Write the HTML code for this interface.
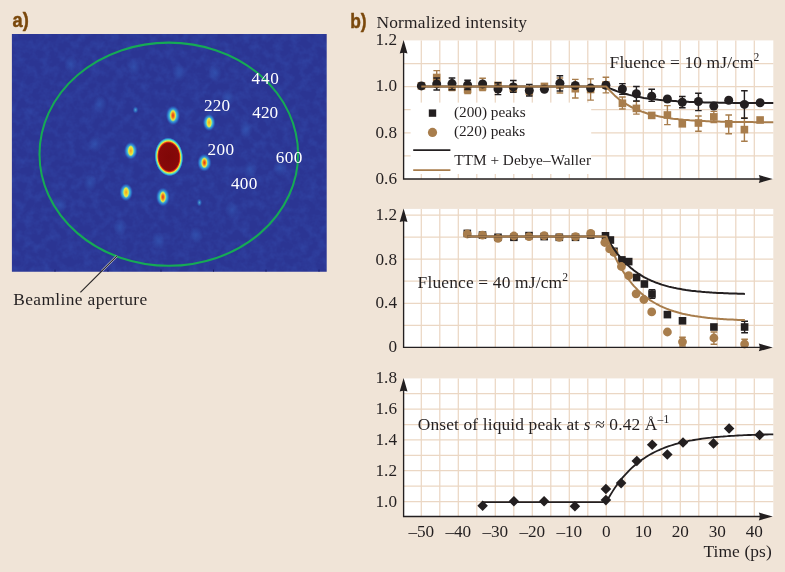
<!DOCTYPE html>
<html lang="en"><head><meta charset="utf-8"><title>Figure</title>
<style>html,body{margin:0;padding:0;background:#f0e4d7}svg{display:block}text{font-family:"Liberation Serif","DejaVu Serif",serif;fill:#231f20}.sans{font-family:"Liberation Sans","DejaVu Sans",sans-serif;font-weight:bold;fill:#7a480c;stroke:#7a480c;stroke-width:0.45px;stroke-linejoin:round}.w{fill:#fff}</style></head><body>
<svg width="785" height="572" viewBox="0 0 785 572">
<defs>
<radialGradient id="gc"><stop offset="0" stop-color="#800707"/><stop offset="0.70" stop-color="#86090a"/><stop offset="0.76" stop-color="#e02a12"/><stop offset="0.82" stop-color="#f6e431"/><stop offset="0.875" stop-color="#6fe6a8"/><stop offset="0.92" stop-color="#35b5dc"/><stop offset="0.965" stop-color="#2f7fd0" stop-opacity="0.7"/><stop offset="1" stop-color="#2b4fb3" stop-opacity="0"/></radialGradient>
<radialGradient id="gr"><stop offset="0" stop-color="#e0301a"/><stop offset="0.22" stop-color="#f08a1e"/><stop offset="0.42" stop-color="#f2e337"/><stop offset="0.62" stop-color="#58d9c8"/><stop offset="0.82" stop-color="#2f86d6" stop-opacity="0.8"/><stop offset="1" stop-color="#2b4fb3" stop-opacity="0"/></radialGradient>
<radialGradient id="gy"><stop offset="0" stop-color="#f3a521"/><stop offset="0.3" stop-color="#f0e63a"/><stop offset="0.58" stop-color="#5fdcc4"/><stop offset="0.82" stop-color="#2f86d6" stop-opacity="0.8"/><stop offset="1" stop-color="#2b4fb3" stop-opacity="0"/></radialGradient>
<radialGradient id="gf"><stop offset="0" stop-color="#5fd0e0"/><stop offset="0.5" stop-color="#2f86d6" stop-opacity="0.8"/><stop offset="1" stop-color="#2b4fb3" stop-opacity="0"/></radialGradient>
<radialGradient id="go"><stop offset="0" stop-color="#6fe6b4"/><stop offset="0.45" stop-color="#4fd2d2"/><stop offset="0.72" stop-color="#2f86d6" stop-opacity="0.85"/><stop offset="1" stop-color="#2b4fb3" stop-opacity="0"/></radialGradient>
<radialGradient id="ir"><stop offset="0" stop-color="#e3311a"/><stop offset="0.35" stop-color="#f07a1c"/><stop offset="0.7" stop-color="#f2e337"/><stop offset="1" stop-color="#b8e86a" stop-opacity="0"/></radialGradient>
<radialGradient id="iy"><stop offset="0" stop-color="#f29a20"/><stop offset="0.35" stop-color="#f3c92c"/><stop offset="0.7" stop-color="#eee640"/><stop offset="1" stop-color="#b8e86a" stop-opacity="0"/></radialGradient>
<radialGradient id="gb"><stop offset="0" stop-color="#3560bd" stop-opacity="0.55"/><stop offset="1" stop-color="#3560bd" stop-opacity="0"/></radialGradient>
<filter id="nz" color-interpolation-filters="sRGB" x="0" y="0" width="100%" height="100%"><feTurbulence type="fractalNoise" baseFrequency="0.12" numOctaves="3" seed="7" result="t"/><feColorMatrix in="t" type="matrix" values="0 0 0 0 0.20  0 0 0 0 0.30  0 0 0 0 0.68  1.1 0 0 0 -0.42" result="n"/><feComposite in="n" in2="SourceGraphic" operator="over"/></filter>
<clipPath id="cimg"><rect x="11.9" y="33.9" width="314.8" height="237.9"/></clipPath>
</defs>
<rect width="785" height="572" fill="#f0e4d7"/>
<text class="sans" x="12.6" y="27.2" font-size="20.5" textLength="16.2" lengthAdjust="spacingAndGlyphs">a)</text>
<text class="sans" x="350.2" y="27.8" font-size="20.5" textLength="16.4" lengthAdjust="spacingAndGlyphs">b)</text>
<g clip-path="url(#cimg)">
<rect x="11" y="33" width="317" height="240" fill="#2b3593" filter="url(#nz)"/>
<ellipse cx="134" cy="67" rx="7" ry="9" fill="url(#gb)"/>
<ellipse cx="179" cy="73" rx="7" ry="9" fill="url(#gb)"/>
<ellipse cx="215" cy="73" rx="7" ry="9" fill="url(#gb)"/>
<ellipse cx="100" cy="104" rx="7" ry="9" fill="url(#gb)"/>
<ellipse cx="95" cy="144" rx="7" ry="9" fill="url(#gb)"/>
<ellipse cx="90" cy="183" rx="7" ry="9" fill="url(#gb)"/>
<ellipse cx="120" cy="227" rx="7" ry="9" fill="url(#gb)"/>
<ellipse cx="158" cy="241" rx="7" ry="9" fill="url(#gb)"/>
<ellipse cx="196" cy="235" rx="7" ry="9" fill="url(#gb)"/>
<ellipse cx="232" cy="210" rx="7" ry="9" fill="url(#gb)"/>
<ellipse cx="246" cy="129" rx="7" ry="9" fill="url(#gb)"/>
<ellipse cx="280" cy="168" rx="7" ry="9" fill="url(#gb)"/>
<ellipse cx="60" cy="205" rx="7" ry="9" fill="url(#gb)"/>
<ellipse cx="250" cy="170" rx="7" ry="9" fill="url(#gb)"/>
<ellipse cx="71" cy="64" rx="7" ry="9" fill="url(#gb)"/>
<ellipse cx="228" cy="98" rx="7" ry="9" fill="url(#gb)"/>
<ellipse cx="168.9" cy="156.9" rx="14.3" ry="19.4" fill="url(#gc)" transform="rotate(-5 168.9 156.9)"/>
<ellipse cx="173" cy="115.5" rx="7.31" ry="10.112" fill="url(#go)"/>
<ellipse cx="173" cy="115.5" rx="3.4" ry="6.4" fill="url(#ir)"/>
<ellipse cx="209.1" cy="122.5" rx="6.45" ry="8.848" fill="url(#go)"/>
<ellipse cx="209.1" cy="122.5" rx="3" ry="5.6" fill="url(#iy)"/>
<ellipse cx="130.8" cy="150.8" rx="6.88" ry="9.164" fill="url(#go)"/>
<ellipse cx="130.8" cy="150.8" rx="3.2" ry="5.8" fill="url(#iy)"/>
<ellipse cx="204.4" cy="162.7" rx="7.31" ry="9.164" fill="url(#go)"/>
<ellipse cx="204.4" cy="162.7" rx="3.4" ry="5.8" fill="url(#ir)"/>
<ellipse cx="126.1" cy="192.3" rx="6.88" ry="9.164" fill="url(#go)"/>
<ellipse cx="126.1" cy="192.3" rx="3.2" ry="5.8" fill="url(#iy)"/>
<ellipse cx="162.9" cy="197" rx="7.095" ry="9.796" fill="url(#go)"/>
<ellipse cx="162.9" cy="197" rx="3.3" ry="6.2" fill="url(#ir)"/>
<ellipse cx="135.5" cy="109.9" rx="3" ry="3.8" fill="url(#gf)" opacity="0.75"/>
<ellipse cx="199.4" cy="202.6" rx="2.8" ry="4.2" fill="url(#gf)" opacity="0.75"/>
<rect x="54.5" y="269.6" width="1" height="2.4" fill="#141a5e" opacity="0.8"/>
<rect x="107.5" y="269.6" width="1" height="2.4" fill="#141a5e" opacity="0.8"/>
<rect x="160.5" y="269.6" width="1" height="2.4" fill="#141a5e" opacity="0.8"/>
<rect x="213" y="269.6" width="1" height="2.4" fill="#141a5e" opacity="0.8"/>
<rect x="265.5" y="269.6" width="1" height="2.4" fill="#141a5e" opacity="0.8"/>
<rect x="318.5" y="269.6" width="1" height="2.4" fill="#141a5e" opacity="0.8"/>
</g>
<ellipse cx="168.8" cy="154.2" rx="129.3" ry="111.6" fill="none" stroke="#16aa55" stroke-width="2.05"/>
<text class="w" x="251.6" y="83.8" font-size="17.2" textLength="27.2" lengthAdjust="spacing">440</text>
<text class="w" x="204" y="111.2" font-size="17.2" textLength="26.2" lengthAdjust="spacing">220</text>
<text class="w" x="252.2" y="118.3" font-size="17.2" textLength="26" lengthAdjust="spacing">420</text>
<text class="w" x="207.6" y="154.8" font-size="17.2" textLength="26.6" lengthAdjust="spacing">200</text>
<text class="w" x="275.7" y="163" font-size="17.2" textLength="26.6" lengthAdjust="spacing">600</text>
<text class="w" x="231" y="189" font-size="17.2" textLength="26.3" lengthAdjust="spacing">400</text>
<line x1="116.9" y1="256" x2="101.8" y2="271.1" stroke="#fff" stroke-width="2.1" stroke-opacity="0.8"/>
<line x1="117" y1="255.9" x2="80.4" y2="292.4" stroke="#2a2627" stroke-width="1.2"/>
<text x="13.2" y="304.6" font-size="17.4" textLength="134" lengthAdjust="spacing">Beamline aperture</text>
<rect x="403.6" y="40.4" width="369.7" height="138.6" fill="#fff"/>
<path d="M421.3 40.4V179.0M439.8 40.4V179.0M458.3 40.4V179.0M476.8 40.4V179.0M495.3 40.4V179.0M513.8 40.4V179.0M532.3 40.4V179.0M550.8 40.4V179.0M569.3 40.4V179.0M587.8 40.4V179.0M606.3 40.4V179.0M624.8 40.4V179.0M643.3 40.4V179.0M661.8 40.4V179.0M680.3 40.4V179.0M698.8 40.4V179.0M717.3 40.4V179.0M735.8 40.4V179.0M754.3 40.4V179.0M403.6 155.9H773.3M403.6 132.8H773.3M403.6 109.7H773.3M403.6 86.6H773.3M403.6 63.5H773.3" stroke="#ebd7c4" stroke-width="1.25" fill="none"/>
<rect x="410.6" y="102.6" width="180.6" height="71.4" fill="#fff"/>
<rect x="417.6" y="82.1" width="7.6" height="7.6" fill="#a87d4c"/>
<path d="M436.7 70.6V84.5M433.4 70.6h6.6M433.4 84.5h6.6" stroke="#a87d4c" stroke-width="1.4" fill="none"/>
<rect x="432.9" y="73.7" width="7.6" height="7.6" fill="#a87d4c"/>
<path d="M452.0 83.5V90.5M448.7 83.5h6.6M448.7 90.5h6.6" stroke="#a87d4c" stroke-width="1.4" fill="none"/>
<rect x="448.2" y="83.2" width="7.6" height="7.6" fill="#a87d4c"/>
<path d="M467.6 85.5V93.5M464.3 85.5h6.6M464.3 93.5h6.6" stroke="#a87d4c" stroke-width="1.4" fill="none"/>
<rect x="463.8" y="85.7" width="7.6" height="7.6" fill="#a87d4c"/>
<path d="M482.6 78.3V90.5M479.3 78.3h6.6M479.3 90.5h6.6" stroke="#a87d4c" stroke-width="1.4" fill="none"/>
<rect x="478.8" y="82.8" width="7.6" height="7.6" fill="#a87d4c"/>
<rect x="494.2" y="81.6" width="7.6" height="7.6" fill="#a87d4c"/>
<path d="M513.3 84.0V92.0M510.0 84.0h6.6M510.0 92.0h6.6" stroke="#a87d4c" stroke-width="1.4" fill="none"/>
<rect x="509.5" y="84.2" width="7.6" height="7.6" fill="#a87d4c"/>
<path d="M529.3 87.0V95.0M526.0 87.0h6.6M526.0 95.0h6.6" stroke="#a87d4c" stroke-width="1.4" fill="none"/>
<rect x="525.5" y="87.2" width="7.6" height="7.6" fill="#a87d4c"/>
<rect x="540.6" y="82.6" width="7.6" height="7.6" fill="#a87d4c"/>
<path d="M559.9 78.0V93.0M556.6 78.0h6.6M556.6 93.0h6.6" stroke="#a87d4c" stroke-width="1.4" fill="none"/>
<rect x="556.1" y="81.6" width="7.6" height="7.6" fill="#a87d4c"/>
<path d="M575.3 79.4V98.0M572.0 79.4h6.6M572.0 98.0h6.6" stroke="#a87d4c" stroke-width="1.4" fill="none"/>
<rect x="571.5" y="84.9" width="7.6" height="7.6" fill="#a87d4c"/>
<path d="M590.6 78.9V100.1M587.3 78.9h6.6M587.3 100.1h6.6" stroke="#a87d4c" stroke-width="1.4" fill="none"/>
<rect x="586.8" y="85.7" width="7.6" height="7.6" fill="#a87d4c"/>
<path d="M605.9 77.2V92.9M602.6 77.2h6.6M602.6 92.9h6.6" stroke="#a87d4c" stroke-width="1.4" fill="none"/>
<rect x="602.1" y="81.2" width="7.6" height="7.6" fill="#a87d4c"/>
<path d="M622.4 97.0V109.0M619.1 97.0h6.6M619.1 109.0h6.6" stroke="#a87d4c" stroke-width="1.4" fill="none"/>
<rect x="618.6" y="99.5" width="7.6" height="7.6" fill="#a87d4c"/>
<path d="M636.4 101.4V114.1M633.1 101.4h6.6M633.1 114.1h6.6" stroke="#a87d4c" stroke-width="1.4" fill="none"/>
<rect x="632.6" y="104.6" width="7.6" height="7.6" fill="#a87d4c"/>
<rect x="647.9" y="111.6" width="7.6" height="7.6" fill="#a87d4c"/>
<path d="M667.4 105.6V124.6M664.1 105.6h6.6M664.1 124.6h6.6" stroke="#a87d4c" stroke-width="1.4" fill="none"/>
<rect x="663.6" y="111.2" width="7.6" height="7.6" fill="#a87d4c"/>
<rect x="678.5" y="120.0" width="7.6" height="7.6" fill="#a87d4c"/>
<path d="M698.4 116.0V131.3M695.1 116.0h6.6M695.1 131.3h6.6" stroke="#a87d4c" stroke-width="1.4" fill="none"/>
<rect x="694.6" y="119.2" width="7.6" height="7.6" fill="#a87d4c"/>
<path d="M713.8 111.4V122.6M710.5 111.4h6.6M710.5 122.6h6.6" stroke="#a87d4c" stroke-width="1.4" fill="none"/>
<rect x="710.0" y="113.1" width="7.6" height="7.6" fill="#a87d4c"/>
<path d="M728.7 115.0V133.7M725.4 115.0h6.6M725.4 133.7h6.6" stroke="#a87d4c" stroke-width="1.4" fill="none"/>
<rect x="724.9" y="120.0" width="7.6" height="7.6" fill="#a87d4c"/>
<path d="M744.4 117.9V141.3M741.1 117.9h6.6M741.1 141.3h6.6" stroke="#a87d4c" stroke-width="1.4" fill="none"/>
<rect x="740.6" y="125.8" width="7.6" height="7.6" fill="#a87d4c"/>
<rect x="756.3" y="116.2" width="7.6" height="7.6" fill="#a87d4c"/>
<circle cx="421.4" cy="85.9" r="4.5" fill="#231f20"/>
<path d="M436.7 78.0V90.0M433.4 78.0h6.6M433.4 90.0h6.6" stroke="#231f20" stroke-width="1.4" fill="none"/>
<circle cx="436.7" cy="83.9" r="4.5" fill="#231f20"/>
<path d="M452.0 78.0V89.7M448.7 78.0h6.6M448.7 89.7h6.6" stroke="#231f20" stroke-width="1.4" fill="none"/>
<circle cx="452.0" cy="83.6" r="4.5" fill="#231f20"/>
<path d="M467.6 80.3V89.5M464.3 80.3h6.6M464.3 89.5h6.6" stroke="#231f20" stroke-width="1.4" fill="none"/>
<circle cx="467.6" cy="84.9" r="4.5" fill="#231f20"/>
<circle cx="482.6" cy="83.9" r="4.5" fill="#231f20"/>
<path d="M498.0 82.8V94.6M494.7 82.8h6.6M494.7 94.6h6.6" stroke="#231f20" stroke-width="1.4" fill="none"/>
<circle cx="498.0" cy="89.0" r="4.5" fill="#231f20"/>
<path d="M513.3 80.5V92.3M510.0 80.5h6.6M510.0 92.3h6.6" stroke="#231f20" stroke-width="1.4" fill="none"/>
<circle cx="513.3" cy="86.9" r="4.5" fill="#231f20"/>
<path d="M529.3 84.4V96.0M526.0 84.4h6.6M526.0 96.0h6.6" stroke="#231f20" stroke-width="1.4" fill="none"/>
<circle cx="529.3" cy="90.5" r="4.5" fill="#231f20"/>
<circle cx="544.4" cy="89.3" r="4.5" fill="#231f20"/>
<path d="M559.9 75.7V91.0M556.6 75.7h6.6M556.6 91.0h6.6" stroke="#231f20" stroke-width="1.4" fill="none"/>
<circle cx="559.9" cy="83.3" r="4.5" fill="#231f20"/>
<circle cx="575.3" cy="85.5" r="4.5" fill="#231f20"/>
<circle cx="590.6" cy="88.0" r="4.5" fill="#231f20"/>
<circle cx="605.9" cy="85.2" r="4.5" fill="#231f20"/>
<path d="M622.4 83.6V94.4M619.1 83.6h6.6M619.1 94.4h6.6" stroke="#231f20" stroke-width="1.4" fill="none"/>
<circle cx="622.4" cy="89.0" r="4.5" fill="#231f20"/>
<path d="M636.4 86.5V101.0M633.1 86.5h6.6M633.1 101.0h6.6" stroke="#231f20" stroke-width="1.4" fill="none"/>
<circle cx="636.4" cy="93.8" r="4.5" fill="#231f20"/>
<path d="M651.7 89.3V101.4M648.4 89.3h6.6M648.4 101.4h6.6" stroke="#231f20" stroke-width="1.4" fill="none"/>
<circle cx="651.7" cy="96.3" r="4.5" fill="#231f20"/>
<circle cx="667.4" cy="99.0" r="4.5" fill="#231f20"/>
<path d="M682.3 96.5V107.7M679.0 96.5h6.6M679.0 107.7h6.6" stroke="#231f20" stroke-width="1.4" fill="none"/>
<circle cx="682.3" cy="102.3" r="4.5" fill="#231f20"/>
<path d="M698.4 93.2V110.6M695.1 93.2h6.6M695.1 110.6h6.6" stroke="#231f20" stroke-width="1.4" fill="none"/>
<circle cx="698.4" cy="101.5" r="4.5" fill="#231f20"/>
<circle cx="713.8" cy="106.1" r="4.5" fill="#231f20"/>
<circle cx="728.7" cy="100.3" r="4.5" fill="#231f20"/>
<path d="M744.4 90.7V118.3M741.1 90.7h6.6M741.1 118.3h6.6" stroke="#231f20" stroke-width="1.4" fill="none"/>
<circle cx="744.4" cy="104.4" r="4.5" fill="#231f20"/>
<circle cx="760.1" cy="102.8" r="4.5" fill="#231f20"/>
<path d="M421.3 86.6L606.3 86.6L608.4 87.6L610.5 88.6L612.6 89.5L614.6 90.3L616.7 91.1L618.8 91.8L620.9 92.5L623.0 93.2L625.1 93.8L627.2 94.3L629.3 94.9L631.3 95.4L633.4 95.9L635.5 96.3L637.6 96.7L639.7 97.1L641.8 97.5L643.9 97.9L646.0 98.2L648.0 98.5L650.1 98.8L652.2 99.0L654.3 99.3L656.4 99.5L658.5 99.8L660.6 100.0L662.7 100.2L664.8 100.4L666.8 100.5L668.9 100.7L671.0 100.8L673.1 101.0L675.2 101.1L677.3 101.3L679.4 101.4L681.4 101.5L683.5 101.6L685.6 101.7L687.7 101.8L689.8 101.9L691.9 102.0L694.0 102.0L696.1 102.1L698.1 102.2L700.2 102.2L702.3 102.3L704.4 102.4L706.5 102.4L708.6 102.5L710.7 102.5L712.8 102.6L714.8 102.6L716.9 102.6L719.0 102.7L721.1 102.7L723.2 102.7L725.3 102.8L727.4 102.8L729.5 102.8L731.5 102.8L733.6 102.9L735.7 102.9L737.8 102.9L739.9 102.9L742.0 102.9L744.1 103.0L746.2 103.0L748.2 103.0L750.3 103.0L752.4 103.0L754.5 103.0L756.6 103.0L758.7 103.1L760.8 103.1L762.9 103.1L764.9 103.1L767.0 103.1L769.1 103.1L771.2 103.1L773.3 103.1" stroke="#231f20" stroke-width="2" fill="none" stroke-linejoin="round"/>
<path d="M421.3 86.6L606.3 86.6L608.4 89.0L610.5 91.3L612.6 93.4L614.6 95.4L616.7 97.2L618.8 99.0L620.9 100.6L623.0 102.0L625.1 103.4L627.2 104.7L629.3 105.9L631.3 107.0L633.4 108.1L635.5 109.1L637.6 110.0L639.7 110.8L641.8 111.6L643.9 112.3L646.0 113.0L648.0 113.7L650.1 114.3L652.2 114.8L654.3 115.3L656.4 115.8L658.5 116.3L660.6 116.7L662.7 117.1L664.8 117.4L666.8 117.8L668.9 118.1L671.0 118.4L673.1 118.7L675.2 118.9L677.3 119.1L679.4 119.4L681.4 119.6L683.5 119.8L685.6 119.9L687.7 120.1L689.8 120.3L691.9 120.4L694.0 120.6L696.1 120.7L698.1 120.8L700.2 120.9L702.3 121.0L704.4 121.1L706.5 121.2L708.6 121.3L710.7 121.4L712.8 121.4L714.8 121.5L716.9 121.6L719.0 121.6L721.1 121.7L723.2 121.7L725.3 121.8L727.4 121.8L729.5 121.8L731.5 121.9L733.6 121.9L735.7 122.0L737.8 122.0L739.9 122.0L742.0 122.0L744.1 122.1L746.2 122.1L748.2 122.1L750.3 122.1L752.4 122.1L754.5 122.2L756.6 122.2L758.7 122.2L760.8 122.2L762.9 122.2L764.9 122.2L767.0 122.2L769.1 122.3L771.2 122.3L773.3 122.3" stroke="#a87d4c" stroke-width="2" fill="none" stroke-linejoin="round"/>
<rect x="428.8" y="109.4" width="7.4" height="7.4" fill="#231f20"/>
<circle cx="432.5" cy="132.4" r="4.6" fill="#a87d4c"/>
<path d="M413.2 150.1H450.4" stroke="#231f20" stroke-width="1.7"/>
<path d="M413.2 170.2H450.4" stroke="#a87d4c" stroke-width="1.7"/>
<text x="453.9" y="117" font-size="15.3" textLength="71.7" lengthAdjust="spacing">(200) peaks</text>
<text x="453.9" y="136" font-size="15.3" textLength="71.4" lengthAdjust="spacing">(220) peaks</text>
<text x="454.2" y="164.6" font-size="15.3" textLength="136.8" lengthAdjust="spacing">TTM + Debye–Waller</text>
<text x="609.6" y="68.3" font-size="17.4" textLength="149.8" lengthAdjust="spacing">Fluence = 10 mJ/cm<tspan font-size="11.6" dy="-7">2</tspan></text>
<path d="M403.6 48.4V179H760" stroke="#231f20" stroke-width="1.35" fill="none"/>
<path d="M403.6 40.1L407.5 53.6Q403.6 51.8 399.7 53.6Z" fill="#231f20"/>
<path d="M772.8 179L758.8 175.1Q760.6 179 758.8 182.9Z" fill="#231f20"/>
<text x="397" y="45.3" font-size="17.2" text-anchor="end">1.2</text>
<text x="397" y="91.4" font-size="17.2" text-anchor="end">1.0</text>
<text x="397" y="137.6" font-size="17.2" text-anchor="end">0.8</text>
<text x="397" y="183.6" font-size="17.2" text-anchor="end">0.6</text>
<text x="376.4" y="27.8" font-size="17.4" textLength="150.6" lengthAdjust="spacing">Normalized intensity</text>
<rect x="403.6" y="208.9" width="369.7" height="138.5" fill="#fff"/>
<path d="M421.3 208.9V347.4M439.8 208.9V347.4M458.3 208.9V347.4M476.8 208.9V347.4M495.3 208.9V347.4M513.8 208.9V347.4M532.3 208.9V347.4M550.8 208.9V347.4M569.3 208.9V347.4M587.8 208.9V347.4M606.3 208.9V347.4M624.8 208.9V347.4M643.3 208.9V347.4M661.8 208.9V347.4M680.3 208.9V347.4M698.8 208.9V347.4M717.3 208.9V347.4M735.8 208.9V347.4M754.3 208.9V347.4M403.6 325.3H773.3M403.6 303.3H773.3M403.6 281.2H773.3M403.6 259.2H773.3M403.6 237.1H773.3M403.6 215.0H773.3" stroke="#ebd7c4" stroke-width="1.25" fill="none"/>
<path d="M652.0 289.6V298.4M648.7 289.6h6.6M648.7 298.4h6.6" stroke="#231f20" stroke-width="1.4" fill="none"/>
<path d="M744.6 321.2V332.7M741.2 321.2h6.8M741.2 332.7h6.8" stroke="#231f20" stroke-width="1.4" fill="none"/>
<rect x="463.5" y="229.6" width="7.6" height="7.6" fill="#231f20"/>
<rect x="478.7" y="231.3" width="7.6" height="7.6" fill="#231f20"/>
<rect x="494.2" y="233.5" width="7.6" height="7.6" fill="#231f20"/>
<rect x="510.1" y="233.5" width="7.6" height="7.6" fill="#231f20"/>
<rect x="525.2" y="231.8" width="7.6" height="7.6" fill="#231f20"/>
<rect x="540.4" y="232.8" width="7.6" height="7.6" fill="#231f20"/>
<rect x="555.5" y="233.5" width="7.6" height="7.6" fill="#231f20"/>
<rect x="571.7" y="233.5" width="7.6" height="7.6" fill="#231f20"/>
<rect x="586.9" y="231.2" width="7.6" height="7.6" fill="#231f20"/>
<rect x="601.7" y="232.0" width="7.6" height="7.6" fill="#231f20"/>
<rect x="606.6" y="236.2" width="7.6" height="7.6" fill="#231f20"/>
<rect x="610.2" y="247.5" width="7.6" height="7.6" fill="#231f20"/>
<rect x="618.1" y="256.1" width="7.6" height="7.6" fill="#231f20"/>
<rect x="624.9" y="257.8" width="7.6" height="7.6" fill="#231f20"/>
<rect x="632.8" y="273.7" width="7.6" height="7.6" fill="#231f20"/>
<rect x="640.6" y="280.2" width="7.6" height="7.6" fill="#231f20"/>
<rect x="648.2" y="290.2" width="7.6" height="7.6" fill="#231f20"/>
<rect x="663.6" y="310.8" width="7.6" height="7.6" fill="#231f20"/>
<rect x="678.7" y="317.0" width="7.6" height="7.6" fill="#231f20"/>
<rect x="710.1" y="323.2" width="7.6" height="7.6" fill="#231f20"/>
<rect x="740.8" y="323.2" width="7.6" height="7.6" fill="#231f20"/>
<path d="M682.5 337.3V346.0M679.2 337.3h6.6M679.2 346.0h6.6" stroke="#a87d4c" stroke-width="1.4" fill="none"/>
<path d="M713.9 332.0V344.2M710.6 332.0h6.6M710.6 344.2h6.6" stroke="#a87d4c" stroke-width="1.4" fill="none"/>
<path d="M744.6 339.3V347.0M741.3 339.3h6.6M741.3 347.0h6.6" stroke="#a87d4c" stroke-width="1.4" fill="none"/>
<circle cx="467.3" cy="234.0" r="4.4" fill="#a87d4c"/>
<circle cx="482.5" cy="235.1" r="4.4" fill="#a87d4c"/>
<circle cx="498.0" cy="238.4" r="4.4" fill="#a87d4c"/>
<circle cx="513.9" cy="236.0" r="4.4" fill="#a87d4c"/>
<circle cx="529.0" cy="236.6" r="4.4" fill="#a87d4c"/>
<circle cx="544.2" cy="235.6" r="4.4" fill="#a87d4c"/>
<circle cx="559.3" cy="237.3" r="4.4" fill="#a87d4c"/>
<circle cx="575.5" cy="236.6" r="4.4" fill="#a87d4c"/>
<circle cx="590.7" cy="233.4" r="4.4" fill="#a87d4c"/>
<circle cx="604.8" cy="242.5" r="4.4" fill="#a87d4c"/>
<circle cx="609.7" cy="248.9" r="4.4" fill="#a87d4c"/>
<circle cx="614.0" cy="252.3" r="4.4" fill="#a87d4c"/>
<circle cx="621.4" cy="266.5" r="4.4" fill="#a87d4c"/>
<circle cx="628.7" cy="275.7" r="4.4" fill="#a87d4c"/>
<circle cx="636.1" cy="293.8" r="4.4" fill="#a87d4c"/>
<circle cx="643.9" cy="299.5" r="4.4" fill="#a87d4c"/>
<circle cx="651.7" cy="311.9" r="4.4" fill="#a87d4c"/>
<circle cx="667.4" cy="332.0" r="4.4" fill="#a87d4c"/>
<circle cx="682.5" cy="341.8" r="4.4" fill="#a87d4c"/>
<circle cx="713.9" cy="338.0" r="4.4" fill="#a87d4c"/>
<circle cx="744.6" cy="344.0" r="4.4" fill="#a87d4c"/>
<path d="M467.3 236.4L606.3 236.4L608.0 239.5L609.8 242.5L611.5 245.3L613.2 247.9L615.0 250.4L616.7 252.8L618.4 255.0L620.2 257.1L621.9 259.1L623.6 261.0L625.4 262.8L627.1 264.5L628.8 266.1L630.6 267.7L632.3 269.1L634.0 270.5L635.8 271.8L637.5 273.0L639.2 274.1L640.9 275.2L642.7 276.3L644.4 277.3L646.1 278.2L647.9 279.1L649.6 279.9L651.3 280.7L653.1 281.4L654.8 282.1L656.5 282.8L658.3 283.4L660.0 284.0L661.7 284.6L663.5 285.1L665.2 285.6L666.9 286.1L668.7 286.6L670.4 287.0L672.1 287.4L673.9 287.8L675.6 288.1L677.3 288.5L679.1 288.8L680.8 289.1L682.5 289.4L684.3 289.7L686.0 290.0L687.7 290.2L689.5 290.4L691.2 290.7L692.9 290.9L694.7 291.1L696.4 291.3L698.1 291.4L699.9 291.6L701.6 291.8L703.3 291.9L705.1 292.1L706.8 292.2L708.5 292.3L710.2 292.4L712.0 292.6L713.7 292.7L715.4 292.8L717.2 292.9L718.9 292.9L720.6 293.0L722.4 293.1L724.1 293.2L725.8 293.3L727.6 293.3L729.3 293.4L731.0 293.5L732.8 293.5L734.5 293.6L736.2 293.6L738.0 293.7L739.7 293.7L741.4 293.8L743.2 293.8L744.9 293.9" stroke="#231f20" stroke-width="2" fill="none" stroke-linejoin="round"/>
<path d="M467.3 236.4L606.3 236.4L608.0 240.9L609.8 245.2L611.5 249.3L613.2 253.2L615.0 256.8L616.7 260.3L618.4 263.5L620.2 266.6L621.9 269.5L623.6 272.3L625.4 274.9L627.1 277.4L628.8 279.7L630.6 282.0L632.3 284.1L634.0 286.1L635.8 287.9L637.5 289.7L639.2 291.4L640.9 293.0L642.7 294.5L644.4 295.9L646.1 297.3L647.9 298.6L649.6 299.8L651.3 300.9L653.1 302.0L654.8 303.0L656.5 304.0L658.3 304.9L660.0 305.8L661.7 306.6L663.5 307.4L665.2 308.1L666.9 308.8L668.7 309.5L670.4 310.1L672.1 310.7L673.9 311.3L675.6 311.8L677.3 312.3L679.1 312.8L680.8 313.2L682.5 313.7L684.3 314.1L686.0 314.4L687.7 314.8L689.5 315.1L691.2 315.5L692.9 315.8L694.7 316.1L696.4 316.3L698.1 316.6L699.9 316.8L701.6 317.1L703.3 317.3L705.1 317.5L706.8 317.7L708.5 317.9L710.2 318.1L712.0 318.2L713.7 318.4L715.4 318.5L717.2 318.7L718.9 318.8L720.6 318.9L722.4 319.0L724.1 319.2L725.8 319.3L727.6 319.4L729.3 319.5L731.0 319.6L732.8 319.6L734.5 319.7L736.2 319.8L738.0 319.9L739.7 319.9L741.4 320.0L743.2 320.1L744.9 320.1" stroke="#a87d4c" stroke-width="2" fill="none" stroke-linejoin="round"/>
<text x="417.6" y="288" font-size="17.4" textLength="150.4" lengthAdjust="spacing">Fluence = 40 mJ/cm<tspan font-size="11.6" dy="-7">2</tspan></text>
<path d="M403.6 216.9V347.4H760" stroke="#231f20" stroke-width="1.35" fill="none"/>
<path d="M403.6 208.6L407.5 222.1Q403.6 220.3 399.7 222.1Z" fill="#231f20"/>
<path d="M772.8 347.4L758.8 343.5Q760.6 347.4 758.8 351.3Z" fill="#231f20"/>
<text x="397" y="220.1" font-size="17.2" text-anchor="end">1.2</text>
<text x="397" y="264.5" font-size="17.2" text-anchor="end">0.8</text>
<text x="397" y="307.8" font-size="17.2" text-anchor="end">0.4</text>
<text x="397" y="352.2" font-size="17.2" text-anchor="end">0</text>
<rect x="403.6" y="378.4" width="369.7" height="138.1" fill="#fff"/>
<path d="M421.3 378.4V516.5M439.8 378.4V516.5M458.3 378.4V516.5M476.8 378.4V516.5M495.3 378.4V516.5M513.8 378.4V516.5M532.3 378.4V516.5M550.8 378.4V516.5M569.3 378.4V516.5M587.8 378.4V516.5M606.3 378.4V516.5M624.8 378.4V516.5M643.3 378.4V516.5M661.8 378.4V516.5M680.3 378.4V516.5M698.8 378.4V516.5M717.3 378.4V516.5M735.8 378.4V516.5M754.3 378.4V516.5M403.6 501.5H773.3M403.6 486.1H773.3M403.6 470.7H773.3M403.6 455.3H773.3M403.6 439.9H773.3M403.6 424.5H773.3M403.6 409.1H773.3M403.6 393.7H773.3" stroke="#ebd7c4" stroke-width="1.25" fill="none"/>
<path d="M482.6 502.1L606.3 502.1L608.4 498.3L610.5 494.8L612.6 491.4L614.6 488.3L616.7 485.3L618.8 482.4L620.9 479.7L623.0 477.2L625.1 474.8L627.2 472.6L629.3 470.4L631.3 468.4L633.4 466.5L635.5 464.7L637.6 463.0L639.7 461.4L641.8 459.8L643.9 458.4L646.0 457.0L648.0 455.7L650.1 454.5L652.2 453.4L654.3 452.3L656.4 451.3L658.5 450.3L660.6 449.4L662.7 448.5L664.8 447.7L666.8 446.9L668.9 446.2L671.0 445.5L673.1 444.8L675.2 444.2L677.3 443.6L679.4 443.1L681.4 442.6L683.5 442.1L685.6 441.6L687.7 441.2L689.8 440.7L691.9 440.4L694.0 440.0L696.1 439.6L698.1 439.3L700.2 439.0L702.3 438.7L704.4 438.4L706.5 438.1L708.6 437.9L710.7 437.7L712.8 437.4L714.8 437.2L716.9 437.0L719.0 436.8L721.1 436.6L723.2 436.5L725.3 436.3L727.4 436.2L729.5 436.0L731.5 435.9L733.6 435.8L735.7 435.6L737.8 435.5L739.9 435.4L742.0 435.3L744.1 435.2L746.2 435.1L748.2 435.0L750.3 435.0L752.4 434.9L754.5 434.8L756.6 434.7L758.7 434.7L760.8 434.6L762.9 434.6L764.9 434.5L767.0 434.5L769.1 434.4L771.2 434.4L773.3 434.3" stroke="#231f20" stroke-width="1.8" fill="none" stroke-linejoin="round"/>
<path d="M482.6 500.4l5.3 5.3l-5.3 5.3l-5.3 -5.3z" fill="#231f20"/>
<path d="M513.9 496.0l5.3 5.3l-5.3 5.3l-5.3 -5.3z" fill="#231f20"/>
<path d="M544.1 496.0l5.3 5.3l-5.3 5.3l-5.3 -5.3z" fill="#231f20"/>
<path d="M574.9 501.0l5.3 5.3l-5.3 5.3l-5.3 -5.3z" fill="#231f20"/>
<path d="M605.9 494.8l5.3 5.3l-5.3 5.3l-5.3 -5.3z" fill="#231f20"/>
<path d="M605.9 483.7l5.3 5.3l-5.3 5.3l-5.3 -5.3z" fill="#231f20"/>
<path d="M621.1 477.8l5.3 5.3l-5.3 5.3l-5.3 -5.3z" fill="#231f20"/>
<path d="M636.8 455.7l5.3 5.3l-5.3 5.3l-5.3 -5.3z" fill="#231f20"/>
<path d="M652.2 439.5l5.3 5.3l-5.3 5.3l-5.3 -5.3z" fill="#231f20"/>
<path d="M667.3 449.2l5.3 5.3l-5.3 5.3l-5.3 -5.3z" fill="#231f20"/>
<path d="M683.0 437.2l5.3 5.3l-5.3 5.3l-5.3 -5.3z" fill="#231f20"/>
<path d="M713.5 438.1l5.3 5.3l-5.3 5.3l-5.3 -5.3z" fill="#231f20"/>
<path d="M729.1 423.2l5.3 5.3l-5.3 5.3l-5.3 -5.3z" fill="#231f20"/>
<path d="M759.6 429.7l5.3 5.3l-5.3 5.3l-5.3 -5.3z" fill="#231f20"/>
<text x="417.7" y="429.7" font-size="17.4" textLength="251.5" lengthAdjust="spacing">Onset of liquid peak at <tspan font-style="italic">s</tspan> ≈ 0.42 Å<tspan font-size="11.6" dy="-7">–1</tspan></text>
<path d="M403.6 386.4V516.5H760" stroke="#231f20" stroke-width="1.35" fill="none"/>
<path d="M403.6 378.1L407.5 391.6Q403.6 389.8 399.7 391.6Z" fill="#231f20"/>
<path d="M772.8 516.5L758.8 512.6Q760.6 516.5 758.8 520.4Z" fill="#231f20"/>
<text x="397" y="383.3" font-size="17.2" text-anchor="end">1.8</text>
<text x="397" y="414.3" font-size="17.2" text-anchor="end">1.6</text>
<text x="397" y="445.3" font-size="17.2" text-anchor="end">1.4</text>
<text x="397" y="476.4" font-size="17.2" text-anchor="end">1.2</text>
<text x="397" y="507.4" font-size="17.2" text-anchor="end">1.0</text>
<text x="421.3" y="537.1" font-size="17.2" text-anchor="middle">–50</text>
<text x="458.3" y="537.1" font-size="17.2" text-anchor="middle">–40</text>
<text x="495.3" y="537.1" font-size="17.2" text-anchor="middle">–30</text>
<text x="532.3" y="537.1" font-size="17.2" text-anchor="middle">–20</text>
<text x="569.3" y="537.1" font-size="17.2" text-anchor="middle">–10</text>
<text x="606.3" y="537.1" font-size="17.2" text-anchor="middle">0</text>
<text x="643.3" y="537.1" font-size="17.2" text-anchor="middle">10</text>
<text x="680.3" y="537.1" font-size="17.2" text-anchor="middle">20</text>
<text x="717.3" y="537.1" font-size="17.2" text-anchor="middle">30</text>
<text x="754.3" y="537.1" font-size="17.2" text-anchor="middle">40</text>
<text x="703.4" y="556.8" font-size="17.4" textLength="68.4" lengthAdjust="spacing">Time (ps)</text>
</svg></body></html>
